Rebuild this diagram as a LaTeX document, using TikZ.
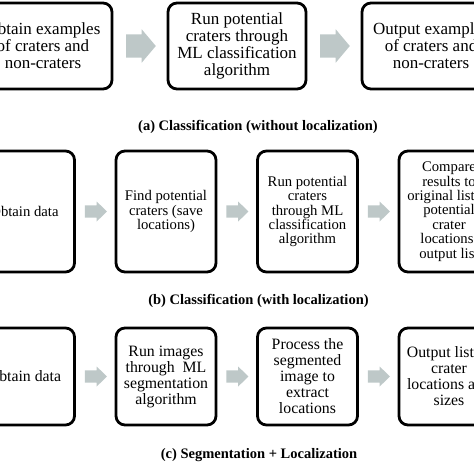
\documentclass[tikz,border=0pt]{standalone}
\usepackage{fontspec}
\setmainfont{Liberation Serif}
\usetikzlibrary{calc}
\definecolor{arrowgray}{RGB}{190,200,200}
\begin{document}
\begin{tikzpicture}[x=1pt,y=-1pt,
  box/.style={draw=black, line width=2.8pt, rounded corners=9pt, fill=white, align=center, inner sep=0pt},
  rowa/.style={box, minimum width=138pt, minimum height=86pt, font=\fontsize{17}{17}\selectfont},
  rowb/.style={box, minimum width=100pt, minimum height=121pt, font=\fontsize{14.7}{14.4}\selectfont},
  rowc/.style={box, minimum width=100pt, minimum height=97pt, font=\fontsize{15.8}{16}\selectfont},
  captext/.style={inner sep=0pt, font=\fontsize{14.5}{14.5}\selectfont\bfseries},
  pics/barrow/.style n args={4}{code={
    \fill[arrowgray] (-#1,-#3) -- (#2,-#3) -- (#2,-#4) -- (#1,0) -- (#2,#4) -- (#2,#3) -- (-#1,#3) -- cycle;}}
]
\useasboundingbox (0,0) rectangle (474,474);
\clip (0,0) rectangle (474,474);
\fill[white] (0,0) rectangle (474,474);

% Row (a)
\node[rowa] (a1) at (43,46) {Obtain examples\\of craters and\\non-craters};
\node[rowa] (a2) at (237,46) {Run potential\\craters through\\ML classification\\algorithm};
\node[rowa] (a3) at (431,46) {Output examples\\of craters and\\non-craters};
\path ($(a1.east)!0.5!(a2.west)$) ++(1,0) pic {barrow={14.8}{0.7}{11.7}{16.7}};
\path ($(a2.east)!0.5!(a3.west)$) ++(1,0) pic {barrow={14.8}{0.7}{11.7}{16.7}};
\node[captext] (capa) at (258,127) {(a) Classification (without localization)};

% Row (b)
\node[rowb] (b1) at (24.5,211.5) {Obtain data};
\node[rowb] (b2) at (166,211.5) {Find potential\\craters (save\\locations)};
\node[rowb] (b3) at (307.5,211.5) {Run potential\\craters\\through ML\\classification\\algorithm};
\node[rowb] (b4) at (449,211.5) {Compare\\results to\\original list of\\potential\\crater\\locations;\\output list};
\path ($(b1.east)!0.5!(b2.west)$) ++(0.7,0) pic {barrow={11}{0.7}{6.2}{10}};
\path ($(b2.east)!0.5!(b3.west)$) ++(0.7,0) pic {barrow={11}{0.7}{6.2}{10}};
\path ($(b3.east)!0.5!(b4.west)$) ++(0.7,0) pic {barrow={11}{0.7}{6.2}{10}};
\node[captext] (capb) at (258.5,301) {(b) Classification (with localization)};

% Row (c)
\node[rowc] (c1) at (24.5,376.5) {Obtain data};
\node[rowc] (c2) at (166,376.5) {Run images\\through\ \ ML\\segmentation\\algorithm};
\node[rowc] (c3) at (307.5,376.5) {Process the\\segmented\\image to\\extract\\locations};
\node[rowc] (c4) at (449,376.5) {Output list of\\crater\\locations and\\sizes};
\path ($(c1.east)!0.5!(c2.west)$) ++(0.7,0) pic {barrow={11}{0.7}{6.2}{10}};
\path ($(c2.east)!0.5!(c3.west)$) ++(0.7,0) pic {barrow={11}{0.7}{6.2}{10}};
\path ($(c3.east)!0.5!(c4.west)$) ++(0.7,0) pic {barrow={11}{0.7}{6.2}{10}};
\node[captext] (capc) at (259,455) {(c) Segmentation + Localization};
\end{tikzpicture}
\end{document}
